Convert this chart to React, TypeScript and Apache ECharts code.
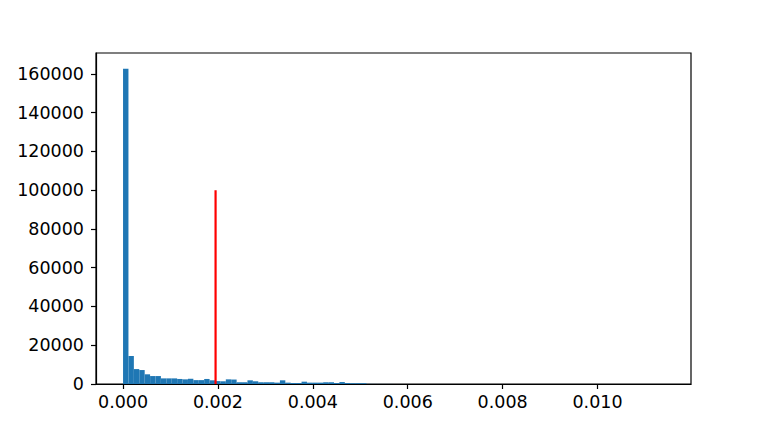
import React, { useEffect, useRef } from "react";
import * as echarts from "echarts";

const binStart = 0;
const binWidth = 0.000114;
const counts = [
  162700, 14450, 7700, 7200, 5000, 4100, 4100, 2900, 2900, 2900,
  2600, 2400, 2700, 2000, 2000, 2600, 1900, 1500, 1400, 2400,
  2300, 900, 900, 1900, 1400, 900, 900, 900, 700, 1900,
  700, 500, 500, 1200, 700, 700, 700, 900, 900, 500,
  1000, 500, 400, 400, 400, 60, 40, 30, 25, 20,
  15, 12, 10, 8, 6, 5, 4, 3, 3, 2,
  2, 2, 1, 1, 1, 1, 0, 1, 0, 0,
  1, 0, 0, 0, 1, 0, 0, 0, 0, 1,
  0, 0, 0, 0, 0, 0, 1, 0, 0, 0,
  0, 0, 0, 0, 0, 0, 0, 0, 0, 1,
];
const thresholdX = 0.00195;
const thresholdTop = 100000;
const xTicks = [0, 0.002, 0.004, 0.006, 0.008, 0.01];
const yTicks = [0, 20000, 40000, 60000, 80000, 100000, 120000, 140000, 160000];

export default function App() {
  const ref = useRef<HTMLDivElement>(null);
  useEffect(() => {
    if (!ref.current) return;
    const chart = echarts.init(ref.current, null, { renderer: "svg" });
    const histData = counts.map((c, i) => [
      binStart + i * binWidth,
      binStart + (i + 1) * binWidth,
      c,
    ]);
    const dataMax = binStart + counts.length * binWidth;
    const xPad = (dataMax - binStart) * 0.05;
    const yMax = Math.max(...counts) * 1.05;
    const font = "DejaVu Sans";
    chart.setOption({
      animation: false,
      grid: {
        left: 96,
        right: 77,
        top: 53,
        bottom: 55,
        show: true,
        borderColor: "#000",
        borderWidth: 1.2,
        backgroundColor: "transparent",
      },
      xAxis: {
        type: "value",
        min: binStart - xPad,
        max: dataMax + xPad,
        splitLine: { show: false },
        axisLine: { show: true, onZero: false, lineStyle: { color: "#000", width: 1.2 } },
        axisTick: { show: true, length: 5, lineStyle: { color: "#000", width: 1.2 }, customValues: xTicks },
        axisLabel: {
          customValues: xTicks,
          formatter: (v: number) => v.toFixed(3),
          color: "#000",
          fontSize: 17.5,
          fontFamily: font,
          margin: 9,
        },
      },
      yAxis: {
        type: "value",
        min: 0,
        max: yMax,
        splitLine: { show: false },
        axisLine: { show: true, onZero: false, lineStyle: { color: "#000", width: 1.2 } },
        axisTick: { show: true, length: 5, lineStyle: { color: "#000", width: 1.2 }, customValues: yTicks },
        axisLabel: {
          customValues: yTicks,
          formatter: (v: number) => String(v),
          color: "#000",
          fontSize: 17.5,
          fontFamily: font,
          margin: 12,
        },
      },
      series: [
        {
          type: "custom",
          data: histData,
          encode: { x: [0, 1], y: 2 },
          renderItem: (params: any, api: any) => {
            const p0 = api.coord([api.value(0), 0]);
            const p1 = api.coord([api.value(1), api.value(2)]);
            return {
              type: "rect",
              shape: { x: p0[0], y: p1[1], width: p1[0] - p0[0], height: p0[1] - p1[1] },
              style: { fill: "#1f77b4" },
            };
          },
        },
        {
          type: "line",
          data: [
            [thresholdX, 0],
            [thresholdX, thresholdTop],
          ],
          symbol: "none",
          lineStyle: { color: "#ff0000", width: 2.2 },
        },
      ],
    });
    return () => chart.dispose();
  }, []);
  return (
    <div
      ref={ref}
      style={{ position: "absolute", left: 0, top: 0, width: 768, height: 439 }}
    />
  );
}
